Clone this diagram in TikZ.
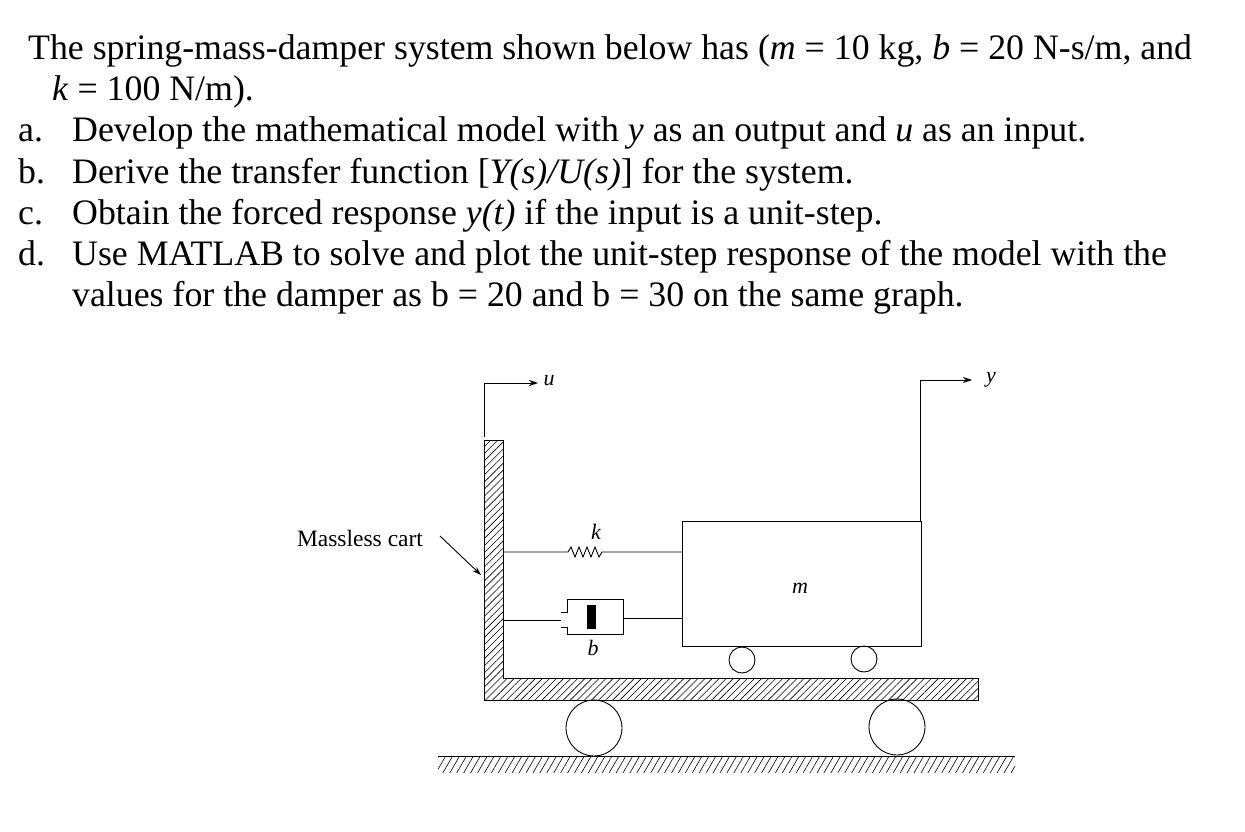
\documentclass[tikz,border=0pt]{standalone}
\usepackage{fontspec}
\setmainfont{Liberation Serif}
\usetikzlibrary{patterns.meta,arrows.meta}
\begin{document}
\begin{tikzpicture}[x=1pt,y=-1pt,
  txt/.style={anchor=base west,inner sep=0,font=\fontsize{35.8}{40}\selectfont},
  lab/.style={inner sep=0,font=\fontsize{22}{26}\selectfont\itshape},
  hatch/.style={draw,line width=1pt,pattern={Lines[angle=45,distance=5pt,line width=0.6pt]}},
  ln/.style={line width=0.9pt},
  arr/.style={ln,-{Stealth[length=9pt,width=6pt]}}]
\useasboundingbox (0,0) rectangle (1245,832);
\node[txt] (t1) at (28,60) {The spring-mass-damper system shown below has (\textit{m} = 10 kg, \textit{b} = 20 N-s/m, and};
\node[txt] (t2) at (52,101) {\textit{k} = 100 N/m).};
\node[txt] (la) at (18,142) {a.};
\node[txt] (ta) at (72,142) {Develop the mathematical model with \textit{y} as an output and \textit{u} as an input.};
\node[txt] (lb) at (18,183) {b.};
\node[txt] (tb) at (72,183) {Derive the transfer function [\textit{Y(s)/U(s)}] for the system.};
\node[txt] (lc) at (18,224) {c.};
\node[txt] (tc) at (72,224) {Obtain the forced response \textit{y(t)} if the input is a unit-step.};
\node[txt] (ld) at (18,265) {d.};
\node[txt] (td) at (72,265) {Use MATLAB to solve and plot the unit-step response of the model with the};
\node[txt] (te) at (72,306) {values for the damper as b = 20 and b = 30 on the same graph.};
% ground
\fill[pattern={Lines[angle=60,distance=6pt,line width=0.6pt]}] (438,756) rectangle (1015,772);
\draw[ln] (438,756) -- (1015,756);
% big wheels
\node[draw,ln,circle,minimum size=56pt,inner sep=0] (w1) at (594,728) {};
\node[draw,ln,circle,minimum size=56pt,inner sep=0] (w2) at (897,727) {};
% cart L
\draw[hatch] (484,440) -- (503,440) -- (503,678) -- (978,678) -- (978,700) -- (484,700) -- cycle;
% small wheels
\node[draw,ln,circle,minimum size=26pt,inner sep=0] (s1) at (742,660) {};
\node[draw,ln,circle,minimum size=26pt,inner sep=0] (s2) at (864,659) {};
% mass
\node[draw,ln,minimum width=239pt,minimum height=125pt,inner sep=0] (m) at (802,584) {};
\node[lab] (ml) at (800,588) {m};
% spring
\coordinate (sp0) at (503,552);
\draw[ln] (sp0) -- (568,552) -- (571,547) -- (575,557) -- (579,547) -- (583,557) -- (587,547) -- (591,557) -- (595,547) -- (599,557) -- (602,552) -- (m.west |- 0,552);
\node[lab] (kl) at (596,532) {k};
% damper
\draw[ln] (503,620) -- (561,620);
\draw[ln] (561,612) -- (567,612) -- (567,599) -- (623,599) -- (623,634) -- (567,634) -- (567,627) -- (561,627);
\fill (587,605) rectangle (596,629);
\draw[ln] (596,620) -- (587,620);
\draw[ln] (623,618) -- (m.west |- 0,618);
\node[lab] (bl) at (593,648) {b};
% u arrow
\coordinate (u0) at (484,437);
\coordinate (u1) at (484,383);
\coordinate (u2) at (538,383);
\draw[arr] (u0) -- (u1) -- (u2);
\node[lab] (ul) at (549,381) {u};
% y arrow
\coordinate (y0) at (920,522);
\coordinate (y1) at (920,380);
\coordinate (y2) at (972,380);
\draw[arr] (y0) -- (y1) -- (y2);
\node[lab] (yl) at (991,380) {y};
% massless cart label
\node[inner sep=0,font=\fontsize{23.5}{26}\selectfont] (mc) at (360,538) {Massless cart};
\coordinate (mca) at (481,575);
\draw[arr] (440,536) -- (mca);
\end{tikzpicture}
\end{document}
